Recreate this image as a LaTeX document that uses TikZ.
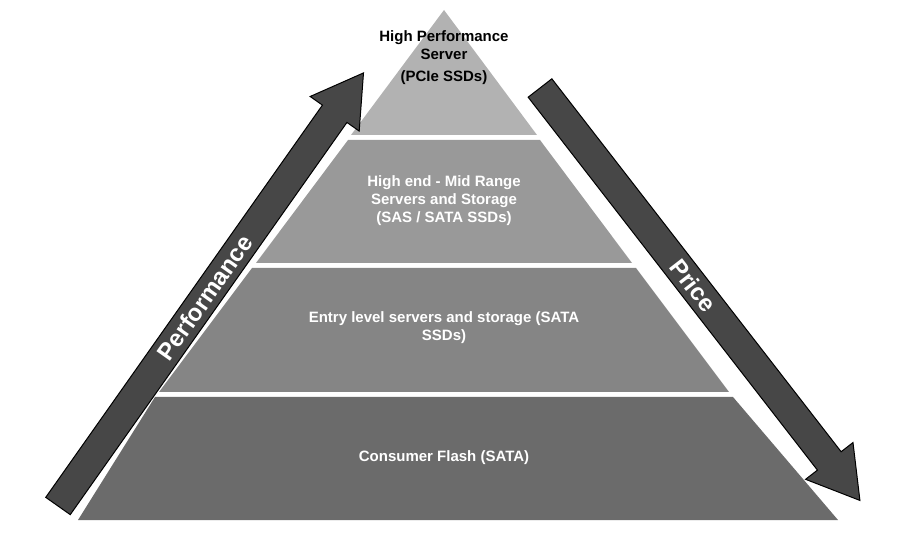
\documentclass[tikz,border=0pt]{standalone}
\usepackage{fontspec}
\setmainfont{Liberation Sans}
\begin{document}
\begin{tikzpicture}[x=1pt,y=1pt,
  tier/.style={draw=none},
  lbl/.style={align=center,font=\bfseries\fontsize{15}{18}\selectfont,text=white},
  arr/.style={fill=black!72,draw=black,line width=1pt},
  alabel/.style={font=\bfseries\fontsize{24}{26}\selectfont,text=white,transform shape}]
\useasboundingbox (0,0) rectangle (903,536);
% pyramid tiers (y' = 536 - y_image)
\fill[tier,fill=black!30] (444,526) -- (537,401) -- (351,401) -- cycle;
\fill[tier,fill=black!40] (348,396) -- (540,396) -- (632,273) -- (256,273) -- cycle;
\fill[tier,fill=black!48] (252,268) -- (636,268) -- (729,144) -- (159,144) -- cycle;
\fill[tier,fill=black!58] (155,139) -- (733,139) -- (838,16) -- (78,16) -- cycle;
\node[lbl,text=black] (t1) at (444,478) {High Performance\\Server\\[4pt](PCIe SSDs)};
\node[lbl] (t2) at (444,335) {High end - Mid Range\\Servers and Storage\\(SAS / SATA SSDs)};
\node[lbl] (t3) at (444,208) {Entry level servers and storage (SATA\\SSDs)};
\node[lbl] (t4) at (444,78) {Consumer Flash (SATA)};
% performance arrow
\begin{scope}[shift={(58,30)},rotate=54.8]
\draw[arr] (0,-15) -- (480,-15) -- (480,-30) -- (530,0) -- (480,30) -- (480,15) -- (0,15) -- cycle;
\node[alabel] (perf) at (255,0) {Performance};
\end{scope}
% price arrow
\begin{scope}[shift={(540,448)},rotate=-52.2]
\draw[arr] (0,-15) -- (472,-15) -- (472,-30) -- (522,0) -- (472,30) -- (472,15) -- (0,15) -- cycle;
\node[alabel] (price) at (250,0) {Price};
\end{scope}
\end{tikzpicture}
\end{document}
